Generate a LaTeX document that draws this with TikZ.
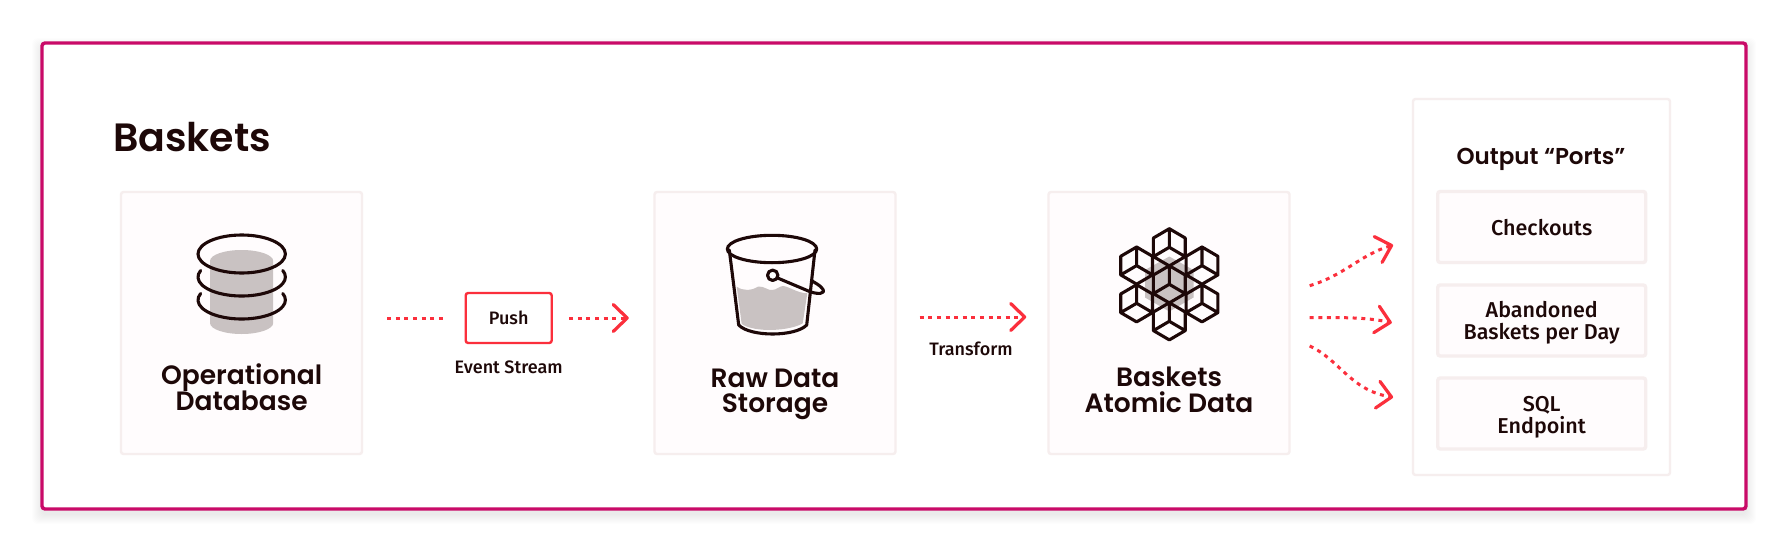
\documentclass[tikz,border=0pt]{standalone}
\usepackage{fontspec}
\usetikzlibrary{arrows.meta}
\newfontfamily\popsb{Poppins SemiBold}
\newfontfamily\interf{Fira Sans Medium}
\definecolor{framec}{HTML}{C90A68}
\definecolor{cardline}{HTML}{F6EEEE}
\definecolor{cardfill}{HTML}{FFFCFD}
\definecolor{inkc}{HTML}{1D0808}
\definecolor{greyc}{HTML}{C9C2C2}
\definecolor{redc}{HTML}{FB2F3C}
\tikzset{
  cardbox/.style={draw=cardline,line width=2.4pt,rounded corners=2.5pt,inner sep=0pt,fill=cardfill},
  portbox/.style={cardbox,line width=3.4pt,minimum width=208pt,minimum height=71pt},
  mainbox/.style={cardbox,minimum width=241pt,minimum height=262pt},
  heading/.style={text=inkc,align=center,inner sep=0pt,font=\popsb\fontsize{26.5}{25.7}\selectfont,execute at begin node={\lineskiplimit=-30pt\relax}},
  small/.style={text=inkc,align=center,inner sep=0pt,font=\interf\fontsize{18}{20}\selectfont},
  port/.style={text=inkc,align=center,inner sep=0pt,font=\interf\fontsize{21.5}{22}\selectfont,execute at begin node={\lineskiplimit=-30pt\relax}},
  dotline/.style={draw=redc,line width=3pt,dash pattern=on 4pt off 4.6pt},
  flow/.style={dotline,-{Straight Barb[length=14pt,width=27pt,line width=3.2pt,round]}},
  icon/.style={draw=inkc,line width=3.1pt,line cap=round,line join=round},
}
\newcommand{\cubeat}[2]{%
  \begin{scope}[shift={(#1,#2)}]
    \draw[icon] (0,-18.6) -- (15.9,-9.3) -- (15.9,9.3) -- (0,18.6) -- (-15.9,9.3) -- (-15.9,-9.3) -- cycle
      (0,-18.6) -- (0,0) (-15.9,9.3) -- (0,0) -- (15.9,9.3);
  \end{scope}}
\begin{document}
\begin{tikzpicture}[x=1pt,y=-1pt]
\useasboundingbox (0,0) rectangle (1788,551);
\fill[white] (0,0) rectangle (1788,551);
% shadow
\foreach \s in {1,...,10}{
  \fill[black,opacity=0.008,rounded corners=6pt] (42-\s,43+5-\s) rectangle (1746+\s,509+5+\s);
}
\node[draw=framec,fill=white,line width=3.4pt,rounded corners=3pt,minimum width=1704pt,minimum height=466pt,inner sep=0pt] (frame) at (894,276) {};
\node[text=inkc,inner sep=0pt,anchor=base west,font=\popsb\fontsize{39.5}{44}\selectfont] (title) at (113,151.5) {Baskets};

\node[mainbox] (db) at (241.5,323) {};
\node[mainbox] (raw) at (775,323) {};
\node[mainbox] (atomic) at (1169,323) {};
\node[cardbox,fill=white,minimum width=257pt,minimum height=376pt] (out) at (1541.5,287) {};
\node[portbox] (p1) at (1541.7,227) {};
\node[portbox] (p2) at (1541.7,320.5) {};
\node[portbox] (p3) at (1541.7,413.5) {};
\node[draw=redc,line width=2.4pt,rounded corners=2.5pt,minimum width=86pt,minimum height=50pt,inner sep=0pt,small] (push) at (508.7,318) {Push};

% database icon
\fill[greyc] (210,261) arc[start angle=180,end angle=0,x radius=31.6pt,y radius=11pt] -- (273.2,323) arc[start angle=0,end angle=-180,x radius=31.6pt,y radius=11pt] -- cycle;
\draw[icon] (241.7,254) ellipse[x radius=43.7pt,y radius=19pt];
\draw[icon] ([shift={(160:43.7pt and 19pt)}]241.7,277) arc[start angle=160,end angle=380,x radius=43.7pt,y radius=19pt];
\draw[icon] ([shift={(160:43.7pt and 19pt)}]241.7,300) arc[start angle=160,end angle=380,x radius=43.7pt,y radius=19pt];

% bucket icon
\fill[greyc] (736.7,286.7) .. controls (743,291) and (751,291) .. (758.3,286.5)
  .. controls (764,286) and (769,291) .. (772,290)
  .. controls (777,290) and (779,286) .. (783.3,286)
  .. controls (790,287) and (797,293) .. (807.3,293.3)
  -- (802.7,323.3) .. controls (790,331) and (755,333) .. (741.7,324) -- cycle;
\draw[icon] (772,249) ellipse[x radius=44.7pt,y radius=13.7pt];
\draw[icon] (729.3,250) -- (738.7,325) .. controls (750,337) and (795,337) .. (806.7,325) -- (815,250);
\draw[icon,fill=white] (772.7,275.3) circle[radius=5.2pt];
\draw[icon] (778.3,278.3) -- (810,291.7) .. controls (818,294.5) and (826,294) .. (822.7,289) .. controls (820,285) and (815,283) .. (811.7,280.7);

% cubes icon
\fill[greyc] (1169.3,256.5) -- (1193.5,270) -- (1193.5,297.5) -- (1169.3,311.5) -- (1145,297.5) -- (1145,270) -- cycle;
\cubeat{1169.3}{247.3}
\cubeat{1136.6}{265.6}
\cubeat{1202}{265.6}
\cubeat{1136.6}{303.3}
\cubeat{1202}{303.3}
\cubeat{1169.3}{321.3}
\cubeat{1169.3}{284.3}

% labels
\node[heading] (t1) at (241.7,387) {Operational\\Database};
\node[heading] (t2) at (775,394.5) {Raw Data\\Storage};
\node[heading] (t3) at (1169,390) {Baskets\\Atomic Data};
\node[small] (t4) at (508.7,367) {Event Stream};
\node[small] (t5) at (971,349) {Transform};
\node[text=inkc,inner sep=0pt,font=\popsb\fontsize{23}{26}\selectfont] (t6) at (1541,159) {Output “Ports”};
\node[port] at ([yshift=-1pt]p1) {Checkouts};
\node[port] at ([yshift=-2pt]p2) {Abandoned\\Baskets per Day};
\node[port] at ([yshift=-4pt]p3) {SQL\\Endpoint};

% connectors
\draw[dotline,shorten <=24pt,shorten >=18.7pt] (db.east |- push) -- (push.west);
\draw[flow,shorten <=16.3pt,shorten >=24.5pt] (push.east) -- (raw.west |- push);
\draw[flow,shorten <=23pt,shorten >=21pt] (raw.east |- 0,317) -- (atomic.west |- 0,317);
\draw[flow] ([shift={(19,-37.3)}]atomic.east) .. controls (1345,275) and (1360,255) .. ([shift={(-18.7,-42)}]out.west);
\draw[flow] ([shift={(19,-5.3)}]atomic.east) .. controls (1340,317.5) and (1365,317) .. ([shift={(-20,35.7)}]out.west);
\draw[flow] ([shift={(19,23)}]atomic.east) .. controls (1340,360) and (1350,390) .. ([shift={(-18.7,110.3)}]out.west);
\end{tikzpicture}
\end{document}
